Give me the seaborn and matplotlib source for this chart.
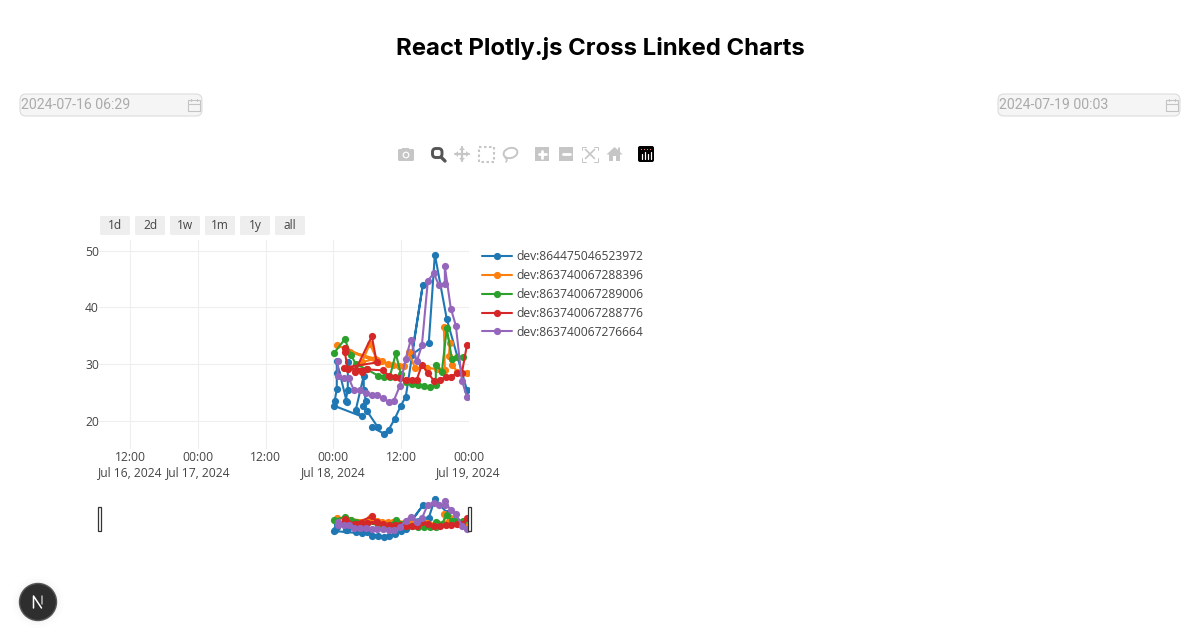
#!/usr/bin/env python3

import pandas as pd
import matplotlib
matplotlib.use('Agg')
import matplotlib.pyplot as plt
import seaborn as sns
from matplotlib.patches import Circle, FancyBboxPatch, Polygon, Rectangle, Ellipse

# hours after 2024-07-18 00:00
dev_a_hours = [2.57, 2.57, 2.2, 2.4, .62, .62, .62, .27, .1, 5.05, 4.0, 5.4, 5.4, 5.76, 5.23, 5.94, 7.9, 6.83,
               8.95, 9.84, 10.9, 11.97, 12.85, 15.87, 13.92, 16.93, 18.0, 20.12, 23.67]
dev_a_values = [30.3, 25.5, 23.6, 23.3, 30.5, 28.5, 25.7, 23.6, 22.7, 20.8, 22.0, 28.0, 25.5, 23.6, 22.6, 21.8, 18.9, 18.9,
                17.8, 18.5, 20.4, 22.7, 24.3, 44.0, 31.7, 33.8, 49.3, 37.9, 25.5]
dev_b_hours = [.62, 2.04, 7.9, 2.93, 7.36, 5.05, 6.5, 7.7, 8.6, 9.66, 10.55, 11.6, 12.5, 13.4, 14.5, 16.6, 18.35,
               19.77, 19.6, 20.66, 20.48, 21.0, 22.0, 23.67]
dev_b_values = [33.3, 32.8, 30.4, 32.2, 31.0, 30.3, 33.6, 30.8, 30.5, 30.1, 29.8, 29.6, 29.6, 32.1, 29.3, 29.4, 29.1,
                28.9, 36.6, 33.8, 31.4, 29.9, 28.7, 28.5]
dev_c_hours = [.1, 2.04, 3.1, 4.0, 5.94, 7.9, 8.95, 10.0, 11.08, 11.97, 12.85, 13.92, 15.0, 16.05, 17.1, 18.17,
               18.17, 19.24, 20.12, 21.0, 21.9, 22.96]
dev_c_values = [31.9, 34.4, 31.7, 30.0, 29.1, 28.0, 27.8, 27.7, 31.9, 28.2, 26.8, 26.6, 26.4, 26.2, 25.9, 26.4,
                29.9, 28.7, 36.3, 31.0, 31.2, 31.2]
dev_d_hours = [2.04, 2.04, 2.57, 5.05, 5.94, 3.8, 6.83, 7.7, 1.86, 8.78, 9.84, 10.9, 11.8, 12.85, 13.92, 14.8,
               15.7, 16.76, 17.82, 18.88, 19.95, 20.83, 21.9, 22.8, 23.67]
dev_d_values = [32.9, 32.1, 29.2, 28.7, 29.1, 28.7, 34.9, 30.3, 29.4, 28.9, 28.0, 27.7, 27.5, 27.3, 27.3, 27.3,
                29.9, 28.5, 27.1, 27.3, 27.7, 27.8, 28.4, 28.5, 33.3]
dev_e_hours = [.8, .8, 1.86, 2.75, 3.63, 4.7, 5.76, 6.83, 7.7, 8.78, 9.84, 10.73, 11.8, 12.85, 13.74, 14.8, 15.7,
               16.76, 17.82, 18.7, 19.77, 19.77, 20.83, 21.72, 22.8, 23.67]
dev_e_values = [30.5, 28.0, 27.5, 27.5, 25.5, 25.4, 25.0, 24.5, 24.5, 24.0, 23.4, 23.6, 26.2, 31.0, 34.3, 30.5, 33.3,
                44.7, 46.0, 43.9, 44.2, 47.2, 39.8, 36.8, 27.1, 24.3]

device_names = ['dev:864475046523972', 'dev:863740067288396', 'dev:863740067289006',
                'dev:863740067288776', 'dev:863740067276664']
device_colors = ['#1f77b4', '#ff7f0e', '#2ca02c', '#d62728', '#9467bd']

x_tick_times = ['2024-07-16 12:00', '2024-07-17 00:00', '2024-07-17 12:00',
                '2024-07-18 00:00', '2024-07-18 12:00', '2024-07-19 00:00']
x_tick_labels = ['12:00\nJul 16, 2024', '00:00\nJul 17, 2024', '12:00',
                 '00:00\nJul 18, 2024', '12:00', '00:00\nJul 19, 2024']
y_ticks = [20, 30, 40, 50]
range_buttons = ['1d', '2d', '1w', '1m', '1y', 'all']
date_start = '2024-07-16 06:29'
date_end = '2024-07-19 00:03'
title_text = 'React Plotly.js Cross Linked Charts'

GREY = '#c6c6c6'
TEXT = '#444444'


def build_frame():
    rows = []
    all_hours = [dev_a_hours, dev_b_hours, dev_c_hours, dev_d_hours, dev_e_hours]
    all_values = [dev_a_values, dev_b_values, dev_c_values, dev_d_values, dev_e_values]
    for name, hours, values in zip(device_names, all_hours, all_values):
        part = pd.DataFrame({'hours': hours, 'value': values})
        part['device'] = name
        rows.append(part)
    df = pd.concat(rows, ignore_index=True)
    df['time'] = pd.Timestamp('2024-07-18') + pd.to_timedelta(df['hours'], unit='h')
    return df


def axes_box(fig, left, top, right, bottom):
    return fig.add_axes([left / 1200, 1 - bottom / 630, (right - left) / 1200, (bottom - top) / 630])


def draw_lines(df, ax, legend):
    sns.lineplot(data=df, x='time', y='value', hue='device', hue_order=device_names,
                 palette=device_colors, estimator=None, sort=False, marker='o',
                 markersize=5.2, markeredgewidth=0, linewidth=1.5, legend=legend, ax=ax)
    ax.set_xlabel('')
    ax.set_ylabel('')
    ax.set_xlim(pd.Timestamp(date_start), pd.Timestamp(date_end))


def draw_date_box(ui, x, text):
    ui.add_patch(FancyBboxPatch((x, 94), 182, 22, boxstyle='round,pad=0,rounding_size=6',
                                fc='#f5f5f5', ec='#dcdcdc', lw=0.8))
    ui.text(x + 1, 105, text, family='Roboto', fontsize=10.2, color='#ababab', va='center')
    # calendar icon
    cx = x + 168
    ui.add_patch(Rectangle((cx, 100), 12, 11, fc='none', ec='#c4c4c4', lw=0.8))
    ui.plot([cx, cx + 12], [103.5, 103.5], color='#c4c4c4', lw=0.8)
    ui.plot([cx + 3, cx + 3], [98.5, 101], color='#c4c4c4', lw=0.8)
    ui.plot([cx + 9, cx + 9], [98.5, 101], color='#c4c4c4', lw=0.8)


def draw_toolbar(ui):
    # camera
    ui.add_patch(FancyBboxPatch((398, 149), 16, 12, boxstyle='round,pad=0,rounding_size=1.5', fc=GREY, ec='none'))
    ui.add_patch(Rectangle((402, 147.5), 7, 2, fc=GREY, ec='none'))
    ui.add_patch(Circle((406, 155), 3.4, fc='white', ec='none'))
    ui.add_patch(Circle((406, 155), 2.2, fc=GREY, ec='none'))
    # zoom, the active one
    ui.add_patch(FancyBboxPatch((432.5, 148.5), 9.5, 9, boxstyle='round,pad=0,rounding_size=3.5',
                                fc='none', ec='#555555', lw=2.1))
    ui.plot([441, 445], [157, 161], color='#555555', lw=2.4)
    # pan
    ui.plot([455, 469], [154, 154], color=GREY, lw=1.6)
    ui.plot([462, 462], [147, 161], color=GREY, lw=1.6)
    for pts in ([(455, 154), (458, 151), (458, 157)], [(469, 154), (466, 151), (466, 157)],
                [(462, 147), (459, 150), (465, 150)], [(462, 161), (459, 158), (465, 158)]):
        ui.add_patch(Polygon(pts, fc=GREY, ec='none'))
    # box select
    ui.add_patch(Rectangle((479, 147), 14.5, 14.5, fc='none', ec=GREY, lw=1.5, ls=(0, (1.2, 1.2))))
    # lasso
    ui.add_patch(Ellipse((510.5, 153), 14, 10, angle=-15, fc='none', ec=GREY, lw=1.4))
    ui.plot([505, 507, 506], [157, 160, 162], color=GREY, lw=1.2)
    # zoom in and out
    for x, sign in ((535, '+'), (559, '-')):
        ui.add_patch(Rectangle((x, 147), 14, 14, fc=GREY, ec='none'))
        ui.plot([x + 3.5, x + 10.5], [154, 154], color='white', lw=2)
        if sign == '+':
            ui.plot([x + 7, x + 7], [150.5, 157.5], color='white', lw=2)
    # autoscale
    for xs, ys in (([582, 582, 586], [150, 146.5, 146.5]), ([594, 598, 598], [146.5, 146.5, 150]),
                   ([582, 582, 586], [157.5, 161.5, 161.5]), ([594, 598, 598], [161.5, 161.5, 157.5])):
        ui.plot(xs, ys, color=GREY, lw=0.7)
    ui.plot([585.5, 594.5], [149.5, 158.5], color=GREY, lw=1.2)
    ui.plot([585.5, 594.5], [158.5, 149.5], color=GREY, lw=1.2)
    # home
    ui.add_patch(Polygon([(606.5, 154.5), (614.5, 147), (618, 150), (618, 147.5), (620, 147.5), (620, 152),
                          (622.5, 154.5), (620, 154.5), (620, 161), (616, 161), (616, 156), (613, 156),
                          (613, 161), (609, 161), (609, 154.5)], fc=GREY, ec='none'))
    # plotly logo
    ui.add_patch(FancyBboxPatch((638, 146), 16, 16, boxstyle='round,pad=0,rounding_size=2', fc='black', ec='none'))
    for x, top in ((641, 154), (644, 152), (647, 154), (650, 152)):
        ui.plot([x + 0.5, x + 0.5], [top, 159], color='white', lw=0.9)
    for x in (641, 644, 647, 650):
        ui.add_patch(Circle((x + 0.5, 149.5), 0.6, fc='#ef8a7a', ec='none'))


def draw_ui(fig):
    ui = fig.add_axes([0, 0, 1, 1], zorder=5)
    ui.set_xlim(0, 1200)
    ui.set_ylim(630, 0)
    ui.axis('off')
    ui.patch.set_alpha(0)

    ui.text(600, 49, title_text, family='Inter', weight='bold', fontsize=17.2, color='black',
            ha='center', va='center')
    draw_date_box(ui, 20, date_start)
    draw_date_box(ui, 998, date_end)
    draw_toolbar(ui)

    for i, label in enumerate(range_buttons):
        x = 100 + i * 35
        ui.add_patch(FancyBboxPatch((x, 216), 30, 19, boxstyle='round,pad=0,rounding_size=1.5',
                                    fc='#eeeeee', ec='none'))
        ui.text(x + 15, 225.5, label, family='Open Sans', fontsize=8.64, color=TEXT, ha='center', va='center')

    # range slider handles
    for x in (99.5, 469.5):
        ui.add_patch(Rectangle((x - 2, 507), 3.5, 24, fc='white', ec='#333333', lw=0.9))

    # next dev badge
    for r, a in ((26, 0.006), (23, 0.01), (20.5, 0.02)):
        ui.add_patch(Circle((38, 602), r, fc='black', ec='none', alpha=a))
    ui.add_patch(Circle((38, 602), 18.5, fc='#2e2e2e', ec='#555555', lw=1))
    ui.plot([33.5, 33.5, 41.5], [608, 596, 608], color='white', lw=1.1)
    ui.plot([42, 42], [596, 604], color='#bbbbbb', lw=1.1)


def main():
    sns.set_theme(style='whitegrid')
    plt.rcParams['font.family'] = ['Open Sans', 'DejaVu Sans']
    df = build_frame()

    fig = plt.figure(figsize=(12, 6.3), dpi=100, facecolor='white')

    ax = axes_box(fig, 99, 239.5, 469, 448.5)
    draw_lines(df, ax, 'full')
    ax.set_ylim(15.16, 51.95)
    ax.set_yticks(y_ticks)
    ax.set_xticks(pd.to_datetime(x_tick_times))
    ax.set_xticklabels(x_tick_labels, linespacing=1.2)
    ax.tick_params(axis='both', length=0, labelsize=8.75, labelcolor=TEXT)
    ax.tick_params(axis='x', pad=2)
    ax.tick_params(axis='y', pad=0)
    ax.grid(True, color='#eeeeee', linewidth=0.75)
    ax.set_axisbelow(True)
    sns.despine(ax=ax, left=True, bottom=True)
    sns.move_legend(ax, 'upper left', bbox_to_anchor=(482 / 1200, 1 - 250.5 / 630),
                    bbox_transform=fig.transFigure, title=None, frameon=False, fontsize=8.7,
                    handlelength=2.5, handletextpad=0.35, labelspacing=0.48, borderpad=0, borderaxespad=0)
    for label in ax.get_legend().get_texts():
        label.set_color(TEXT)

    slider = axes_box(fig, 99, 494, 469, 543)
    draw_lines(df, slider, False)
    slider.set_ylim(12.8, 53.4)
    slider.axis('off')

    draw_ui(fig)
    fig.savefig('out.png', dpi=100, facecolor='white')


if __name__ == '__main__':
    main()
